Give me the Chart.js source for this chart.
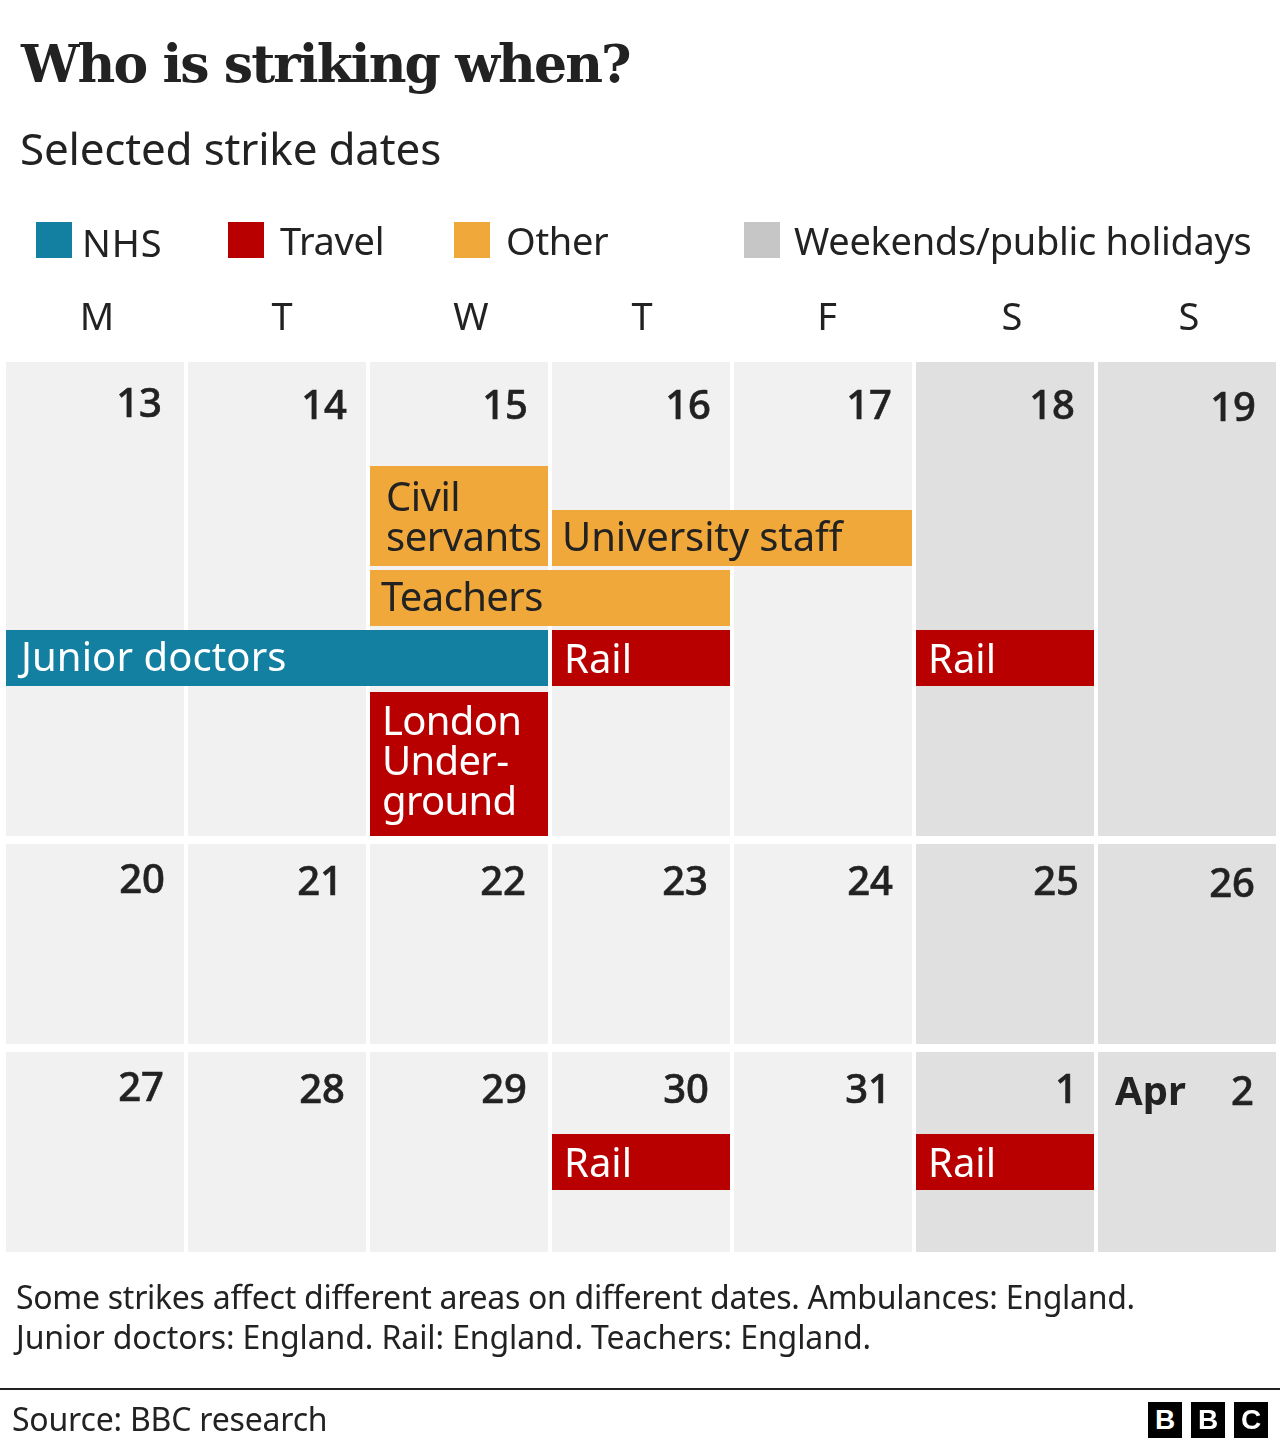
<!DOCTYPE html>
<html>
<head>
<meta charset="utf-8">
<title>Who is striking when?</title>
<script src="https://cdn.jsdelivr.net/npm/chart.js@4"></script>
<style>
  html, body { margin: 0; padding: 0; background: #fff; }
  #page { position: relative; width: 1280px; height: 1450px; overflow: hidden; color: #222; font-family: "Noto Sans", sans-serif; }
  #page div { position: absolute; white-space: nowrap; }
  canvas { position: absolute; left: 0; top: 0; }
  #title { left: 21px; top: 29px; font: bold 52px/70px "DejaVu Serif", serif; letter-spacing: -1.9px; }
  #subtitle { left: 20px; top: 119px; font-size: 44px; line-height: 58px; letter-spacing: -0.2px; }
  .swatch { top: 222px; width: 36px; height: 36px; }
  .legend { font-size: 38px; line-height: 50px; letter-spacing: -0.3px; }
  .note { left: 16px; font-size: 32px; line-height: 40px; }
  #rule { left: 0; top: 1388px; width: 1280px; height: 2px; background: #222; }
  #source { left: 12px; top: 1399px; font-size: 32px; line-height: 40px; letter-spacing: -0.2px; }
  .logo { top: 1402px; width: 34px; height: 36px; background: #000; color: #fff; text-align: center; font: bold 28px/36px "Liberation Sans", sans-serif; }
</style>
</head>
<body>
<div id="page">
  <canvas id="calendar" width="1280" height="1450"></canvas>
  <div id="title">Who is striking when?</div>
  <div id="subtitle">Selected strike dates</div>
  <div class="swatch" style="left:36px;background:#1380a1"></div>
  <div class="legend" style="left:82px;top:217px;letter-spacing:0.8px">NHS</div>
  <div class="swatch" style="left:228px;background:#b80000"></div>
  <div class="legend" style="left:280px;top:215px">Travel</div>
  <div class="swatch" style="left:454px;background:#f0a83a"></div>
  <div class="legend" style="left:506px;top:215px">Other</div>
  <div class="swatch" style="left:744px;background:#c6c6c6"></div>
  <div class="legend" style="left:794px;top:215px">Weekends/public holidays</div>
  <div class="note" style="top:1277px;letter-spacing:-0.28px">Some strikes affect different areas on different dates. Ambulances: England.</div>
  <div class="note" style="top:1317px;letter-spacing:-0.1px">Junior doctors: England. Rail: England. Teachers: England.</div>
  <div id="rule"></div>
  <div id="source">Source: BBC research</div>
  <div class="logo" style="left:1148px">B</div>
  <div class="logo" style="left:1191px">B</div>
  <div class="logo" style="left:1234px">C</div>
</div>
<script>
'use strict'

// data
const weekdays = ['M', 'T', 'W', 'T', 'F', 'S', 'S'];
const week1Dates = [13, 14, 15, 16, 17, 18, 19];
const week2Dates = [20, 21, 22, 23, 24, 25, 26];
const week3Dates = [27, 28, 29, 30, 31, 1, 2];
const weekendDays = [5, 6];
const strikeNames = ['Civil servants', 'University staff', 'Teachers', 'Junior doctors', 'Rail', 'Rail', 'London Underground', 'Rail', 'Rail'];
const strikeGroups = ['Other', 'Other', 'Other', 'NHS', 'Travel', 'Travel', 'Travel', 'Travel', 'Travel'];
const strikeStartDay = [2, 3, 2, 0, 3, 5, 2, 3, 5];
const strikeEndDay = [3, 5, 4, 3, 4, 6, 3, 4, 6];

// layout, in pixels below the top of the calendar
const weekBands = [[0, 474], [482, 682], [690, 890]];
const strikeBands = [[104, 204], [148, 204], [208, 264], [268, 324], [268, 324], [268, 324], [330, 474], [772, 828], [772, 828]];
const strikeLines = [['Civil', 'servants'], ['University staff'], ['Teachers'], ['Junior doctors'], ['Rail'], ['Rail'], ['London', 'Under-', 'ground'], ['Rail'], ['Rail']];
const strikeTextX = [16, 10, 11, 15, 12, 12, 12, 12, 12];
const strikeTextY = [45, 41, 41, 41, 43, 43, 43, 43, 43];
const strikeTextSpacing = [-0.5, -0.1, -0.6, 0.1, 0, 0, -0.7, 0, 0];
const dateRightGap = [[22, 19, 20, 19, 20, 19, 20], [19, 23, 22, 22, 19, 15, 21], [20, 21, 21, 21, 21, 16, 22]];
const dateDrop = [-2, 0, 0, 0, 0, 0, 2];
const dateBaseline = [57, 51, 51];
const weekdayNudge = [2, 5, 12, 1, 4, 7, 2];
const gap = 2 / 182;

const groupColors = { NHS: '#1380a1', Travel: '#b80000', Other: '#f0a83a' };
const inkColors = { NHS: '#fff', Travel: '#fff', Other: '#222' };
const sansFont = '"Noto Sans", sans-serif';

const weekDatasets = [week1Dates, week2Dates, week3Dates].map((dates, w) => ({
    label: `week ${w + 1}`,
    data: dates.map((d, i) => ({ x: [i + gap, i + 1 - gap], y: (weekBands[w][0] + weekBands[w][1]) / 2 })),
    backgroundColor: dates.map((d, i) => weekendDays.includes(i) ? '#e0e0e0' : '#f1f1f1'),
    barThickness: weekBands[w][1] - weekBands[w][0],
    inflateAmount: 0,
    grouped: false,
    order: 2,
}));

const strikeDatasets = strikeNames.map((name, i) => ({
    label: name,
    data: [{ x: [strikeStartDay[i] + gap, strikeEndDay[i] - gap], y: (strikeBands[i][0] + strikeBands[i][1]) / 2 }],
    backgroundColor: groupColors[strikeGroups[i]],
    barThickness: strikeBands[i][1] - strikeBands[i][0],
    inflateAmount: 0,
    grouped: false,
    order: 1,
}));

const calendarText = {
    id: 'calendarText',
    afterDatasetsDraw(chart) {
        const { ctx, scales: { x, y } } = chart;
        ctx.save();
        ctx.textBaseline = 'alphabetic';
        ctx.fillStyle = '#222';
        ctx.strokeStyle = '#222';

        // weekday heading
        ctx.font = `38px ${sansFont}`;
        ctx.textAlign = 'center';
        weekdays.forEach((d, i) => ctx.fillText(d, x.getPixelForValue(i + 0.5) + weekdayNudge[i], 330));

        // date numbers
        ctx.font = `500 40px ${sansFont}`;
        ctx.lineWidth = 0.6;
        ctx.textAlign = 'right';
        [week1Dates, week2Dates, week3Dates].forEach((dates, w) => {
            dates.forEach((d, i) => {
                const px = x.getPixelForValue(i + 1 - gap) - dateRightGap[w][i];
                const py = y.getPixelForValue(weekBands[w][0]) + dateBaseline[w] + dateDrop[i];
                ctx.fillText(String(d), px, py);
                ctx.strokeText(String(d), px, py);
            });
        });
        ctx.font = `bold 40px ${sansFont}`;
        ctx.textAlign = 'left';
        ctx.fillText('Apr', x.getPixelForValue(6) + 19, y.getPixelForValue(weekBands[2][0]) + dateBaseline[2] + dateDrop[6]);

        // strike labels
        ctx.font = `40px ${sansFont}`;
        strikeLines.forEach((lines, i) => {
            ctx.fillStyle = inkColors[strikeGroups[i]];
            ctx.letterSpacing = `${strikeTextSpacing[i]}px`;
            const left = x.getPixelForValue(strikeStartDay[i] + gap) + strikeTextX[i];
            const top = y.getPixelForValue(strikeBands[i][0]) + strikeTextY[i];
            lines.forEach((line, l) => ctx.fillText(line, left, top + l * 40));
        });
        ctx.restore();
    },
};

new Chart(document.getElementById('calendar').getContext('2d'), {
    type: 'bar',
    data: { datasets: [...weekDatasets, ...strikeDatasets] },
    options: {
        indexAxis: 'y',
        responsive: false,
        animation: false,
        devicePixelRatio: 1,
        layout: { padding: { left: 4, right: 2, top: 362, bottom: 198 } },
        plugins: { legend: { display: false }, title: { display: false }, tooltip: { enabled: false } },
        scales: {
            x: { type: 'linear', min: 0, max: 7, display: false },
            y: { type: 'linear', min: 0, max: 890, reverse: true, offset: false, display: false },
        },
    },
    plugins: [calendarText],
});
</script>
</body>
</html>
